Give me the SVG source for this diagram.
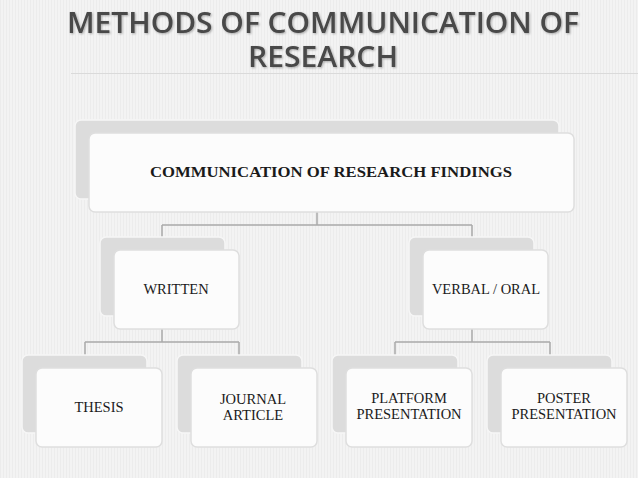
<svg xmlns="http://www.w3.org/2000/svg" width="638" height="478" viewBox="0 0 638 478">
<defs>
<pattern id="bg" width="3" height="3" patternUnits="userSpaceOnUse">
<rect width="3" height="3" fill="#f3f3f3"/>
<rect width="1" height="3" fill="#ececec"/>
</pattern>
<filter id="shadow" x="-5%" y="-20%" width="110%" height="140%">
<feDropShadow dx="1" dy="1" stdDeviation="0.8" flood-color="#000" flood-opacity="0.3"/>
</filter>
<style>
.back{fill:#dcdcdc;stroke:#f6f6f6;stroke-width:1.5}
.front{fill:#fcfcfc;stroke:#dedede;stroke-width:1.5}
.lbl{font-family:"Liberation Serif","Times New Roman",serif;font-size:14.5px;fill:#1a1a1a;text-anchor:middle}
.title{font-family:"Open Sans","DejaVu Sans",sans-serif;font-weight:600;font-size:29px;text-anchor:middle;fill:#484848}
.conn{fill:none;stroke:#a9a9a9;stroke-width:1.5}
</style>
</defs>
<rect width="638" height="478" fill="url(#bg)"/>
<g id="title">
<g filter="url(#shadow)">
<text class="title" x="323" y="33" textLength="512" lengthAdjust="spacingAndGlyphs">METHODS OF COMMUNICATION OF</text>
<text class="title" x="323" y="67" textLength="150" lengthAdjust="spacingAndGlyphs">RESEARCH</text>
</g>
<line x1="71" y1="73.5" x2="638" y2="73.5" stroke="#dadada" stroke-width="1"/>
</g>
<g id="connectors">
<path class="conn" d="M317,200 V225 M162,225 H472 M162,225 V238 M472,225 V238"/>
<path class="conn" d="M162,316 V342 M85,342 H239 M85,342 V355 M239,342 V355"/>
<path class="conn" d="M472,316 V342 M395,342 H550 M395,342 V355 M550,342 V355"/>
</g>
<g id="root">
<rect class="back" x="75" y="120" width="484" height="79" rx="6"/>
<rect class="front" x="89" y="133" width="485" height="79" rx="6"/>
<text class="lbl" x="331" y="177" font-weight="bold" textLength="362" lengthAdjust="spacingAndGlyphs">COMMUNICATION OF RESEARCH FINDINGS</text>
</g>
<g id="written">
<rect class="back" x="100" y="237" width="125" height="79" rx="6"/>
<rect class="front" x="114" y="250" width="125" height="79" rx="6"/>
<text class="lbl" x="176" y="294">WRITTEN</text>
</g>
<g id="verbal">
<rect class="back" x="409" y="237" width="125" height="79" rx="6"/>
<rect class="front" x="423" y="250" width="125" height="79" rx="6"/>
<text class="lbl" x="486" y="294">VERBAL / ORAL</text>
</g>
<g id="thesis">
<rect class="back" x="22" y="355" width="125" height="78" rx="6"/>
<rect class="front" x="36" y="368" width="126" height="79" rx="6"/>
<text class="lbl" x="99" y="412">THESIS</text>
</g>
<g id="journal">
<rect class="back" x="177" y="355" width="125" height="78" rx="6"/>
<rect class="front" x="191" y="368" width="126" height="79" rx="6"/>
<text class="lbl" x="253" y="404">JOURNAL</text>
<text class="lbl" x="253" y="420">ARTICLE</text>
</g>
<g id="platform">
<rect class="back" x="332" y="355" width="126" height="78" rx="6"/>
<rect class="front" x="346" y="368" width="126" height="79" rx="6"/>
<text class="lbl" x="409" y="403">PLATFORM</text>
<text class="lbl" x="409" y="419">PRESENTATION</text>
</g>
<g id="poster">
<rect class="back" x="487" y="355" width="125" height="78" rx="6"/>
<rect class="front" x="501" y="368" width="126" height="79" rx="6"/>
<text class="lbl" x="564" y="403">POSTER</text>
<text class="lbl" x="564" y="419">PRESENTATION</text>
</g>
</svg>
